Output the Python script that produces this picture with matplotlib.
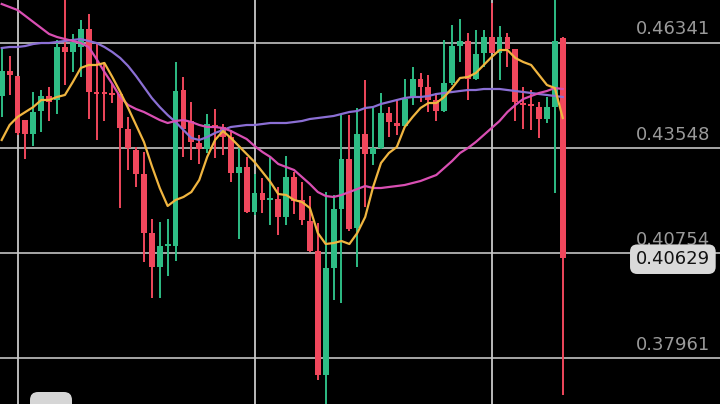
import matplotlib
matplotlib.use("Agg")
import matplotlib.pyplot as plt
from matplotlib.patches import FancyBboxPatch

# candle data (open, high, low, close), one value per candle
opens = [0.44922, 0.45585, 0.45453, 0.44285, 0.43914, 0.44524, 0.44922, 0.44816, 0.46222, 0.46089,
         0.46222, 0.46700, 0.45028, 0.45028, 0.45002, 0.44975, 0.44047, 0.43489, 0.42853, 0.41288,
         0.40385, 0.40943, 0.40943, 0.45081, 0.44259, 0.43675, 0.43516, 0.44153, 0.44100, 0.43834,
         0.42879, 0.43038, 0.41845, 0.42349, 0.42163, 0.42190, 0.41712, 0.42773, 0.42163, 0.41606,
         0.40810, 0.37520, 0.40359, 0.41924, 0.43251, 0.41420, 0.43914, 0.43383, 0.43543, 0.44471,
         0.44206, 0.44126, 0.44896, 0.45373, 0.45161, 0.44816, 0.44524, 0.45267, 0.46249, 0.46381,
         0.45373, 0.46063, 0.46487, 0.46063, 0.46487, 0.46169, 0.44736, 0.44710, 0.44630, 0.44312,
         0.44630, 0.46461]
highs = [0.46196, 0.45983, 0.45453, 0.44285, 0.45028, 0.45081, 0.45161, 0.46408, 0.47469, 0.46567,
         0.46938, 0.47098, 0.46328, 0.45824, 0.45267, 0.44975, 0.44365, 0.43569, 0.43436, 0.41659,
         0.41579, 0.41659, 0.45824, 0.45426, 0.44763, 0.43887, 0.44445, 0.44577, 0.44179, 0.44020,
         0.43543, 0.43304, 0.42853, 0.42747, 0.43304, 0.42508, 0.43330, 0.42906, 0.42641, 0.42269,
         0.41553, 0.42375, 0.42296, 0.44418, 0.44418, 0.44604, 0.45347, 0.44604, 0.45002, 0.44630,
         0.44843, 0.45373, 0.45691, 0.45532, 0.45479, 0.45002, 0.46408, 0.46806, 0.46965, 0.46594,
         0.46673, 0.46673, 0.47389, 0.46779, 0.46594, 0.46169, 0.45161, 0.45081, 0.44763, 0.44896,
         0.47602, 0.46487]
lows = [0.44365, 0.44949, 0.43887, 0.43251, 0.43596, 0.43967, 0.44259, 0.44445, 0.45214, 0.45559,
        0.45426, 0.44312, 0.43755, 0.44259, 0.44736, 0.41951, 0.42959, 0.42508, 0.40518, 0.39563,
        0.39563, 0.40147, 0.40545, 0.43304, 0.43224, 0.43118, 0.43410, 0.43277, 0.43357, 0.42641,
        0.41128, 0.41818, 0.41765, 0.41818, 0.41500, 0.41234, 0.41500, 0.41792, 0.41500, 0.40783,
        0.37388, 0.36645, 0.39510, 0.39430, 0.41341, 0.40385, 0.41977, 0.43092, 0.43516, 0.43834,
        0.43887, 0.44100, 0.44683, 0.44763, 0.44498, 0.44259, 0.44498, 0.45214, 0.45824, 0.44816,
        0.45347, 0.45691, 0.46063, 0.45347, 0.45691, 0.44259, 0.44047, 0.44020, 0.43808, 0.44206,
        0.42349, 0.36990]
closes = [0.45585, 0.45479, 0.43941, 0.43914, 0.44498, 0.44922, 0.44763, 0.46222, 0.46089, 0.46355,
          0.46700, 0.45028, 0.44975, 0.44975, 0.44949, 0.44073, 0.43543, 0.42853, 0.41288, 0.40385,
          0.40943, 0.40996, 0.45055, 0.44047, 0.43702, 0.43516, 0.44179, 0.44073, 0.43834, 0.42879,
          0.43038, 0.41845, 0.42349, 0.42163, 0.42216, 0.41712, 0.42773, 0.42136, 0.41632, 0.40810,
          0.37520, 0.40359, 0.41924, 0.43251, 0.41394, 0.43914, 0.43383, 0.43543, 0.44471, 0.44232,
          0.44126, 0.44843, 0.45373, 0.45161, 0.44816, 0.44524, 0.45267, 0.46249, 0.46381, 0.45373,
          0.46036, 0.46487, 0.46063, 0.46487, 0.46169, 0.44763, 0.44683, 0.44657, 0.44312, 0.44630,
          0.46381, 0.40629]

# moving average lines
ma_fast = [0.43755, 0.44153, 0.44365, 0.44498, 0.44630, 0.44816, 0.44816, 0.44896, 0.44949, 0.45294,
           0.45665, 0.45745, 0.45745, 0.45798, 0.45426, 0.45028, 0.44604, 0.44153, 0.43702, 0.43065,
           0.42481, 0.42004, 0.42163, 0.42243, 0.42375, 0.42694, 0.43304, 0.43755, 0.43994, 0.43808,
           0.43596, 0.43383, 0.43171, 0.42906, 0.42641, 0.42322, 0.42296, 0.42163, 0.42110, 0.41951,
           0.41288, 0.40996, 0.41022, 0.41075, 0.40996, 0.41288, 0.41712, 0.42508, 0.43145, 0.43410,
           0.43569, 0.44100, 0.44365, 0.44604, 0.44736, 0.44736, 0.44896, 0.45134, 0.45400, 0.45426,
           0.45532, 0.45745, 0.45957, 0.46142, 0.46142, 0.45930, 0.45824, 0.45745, 0.45479, 0.45214,
           0.45134, 0.44338]
ma_mid = [0.47363, 0.47283, 0.47204, 0.47045, 0.46885, 0.46726, 0.46567, 0.46487, 0.46434, 0.46381,
          0.46328, 0.46222, 0.45904, 0.45559, 0.45240, 0.44896, 0.44683, 0.44577, 0.44498, 0.44392,
          0.44285, 0.44206, 0.44259, 0.44285, 0.44232, 0.44153, 0.44100, 0.44100, 0.44073, 0.43994,
          0.43887, 0.43781, 0.43596, 0.43436, 0.43304, 0.43118, 0.43038, 0.42959, 0.42773, 0.42587,
          0.42375, 0.42269, 0.42243, 0.42296, 0.42375, 0.42455, 0.42534, 0.42481, 0.42481, 0.42508,
          0.42534, 0.42561, 0.42614, 0.42667, 0.42747, 0.42826, 0.43012, 0.43198, 0.43410, 0.43543,
          0.43702, 0.43887, 0.44073, 0.44259, 0.44498, 0.44683, 0.44843, 0.44922, 0.45002, 0.45055,
          0.45134, 0.45108]
ma_slow = [0.46196, 0.46222, 0.46222, 0.46249, 0.46302, 0.46328, 0.46328, 0.46355, 0.46381, 0.46408,
           0.46434, 0.46381, 0.46328, 0.46222, 0.46089, 0.45930, 0.45718, 0.45453, 0.45161, 0.44869,
           0.44630, 0.44418, 0.44232, 0.44020, 0.43808, 0.43755, 0.43834, 0.43941, 0.44020, 0.44100,
           0.44126, 0.44153, 0.44153, 0.44179, 0.44206, 0.44206, 0.44206, 0.44232, 0.44259, 0.44312,
           0.44338, 0.44365, 0.44392, 0.44445, 0.44498, 0.44524, 0.44604, 0.44630, 0.44710, 0.44763,
           0.44816, 0.44869, 0.44896, 0.44896, 0.44922, 0.44975, 0.45002, 0.45028, 0.45055, 0.45081,
           0.45081, 0.45108, 0.45108, 0.45108, 0.45081, 0.45055, 0.45028, 0.45002, 0.44975, 0.44949,
           0.44922, 0.44896]

price_levels = [0.46341, 0.43548, 0.40754, 0.37961]
level_labels = ["0.46341", "0.43548", "0.40754", "0.37961"]
time_marks = [2, 32, 62]
last_price = "0.40629"

GREEN = "#2ebd85"
RED = "#f0475c"

fig = plt.figure(figsize=(7.2, 4.04), dpi=100, facecolor="black")
ax = fig.add_axes([0, 0, 1, 1])
ax.set_facecolor("black")

# grid lines
for lvl in price_levels:
    ax.axhline(lvl, color="#b4b4b4", lw=1.3, zorder=1)
for t in time_marks:
    ax.axvline(t, color="#c8c8c8", lw=1.3, zorder=1)

# candles
idx = list(range(len(opens)))
colors = [GREEN if c >= o else RED for o, c in zip(opens, closes)]
ax.vlines(idx, lows, highs, colors=colors, lw=1.4, zorder=2)
bottoms = [min(o, c) for o, c in zip(opens, closes)]
heights = [max(abs(c - o), 0.0005) for o, c in zip(opens, closes)]
ax.bar(idx, heights, bottom=bottoms, width=0.74, color=colors, zorder=3)

# moving averages
ax.plot(idx, ma_slow, color="#8b6fd4", lw=1.6, zorder=4)
ax.plot(idx, ma_mid, color="#d94fb3", lw=1.6, zorder=4)
ax.plot(idx, ma_fast, color="#f0b540", lw=1.6, zorder=5)

# price labels on the right
for lvl, txt in zip(price_levels, level_labels):
    ax.annotate(txt, xy=(0.986, lvl), xycoords=("axes fraction", "data"),
                xytext=(0, 3), textcoords="offset points",
                ha="right", va="bottom", color="#9a9a9a", fontsize=13, zorder=6)

# current price tag
ax.annotate(last_price, xy=(0.986, closes[-1]), xycoords=("axes fraction", "data"),
            xytext=(0, -1), textcoords="offset points", ha="right", va="center",
            color="#111111", fontsize=13, zorder=8,
            bbox=dict(boxstyle="round,pad=0.32,rounding_size=0.4", fc="#d9d9d9", ec="none"))

# partial button at the bottom left (display pixels, origin bottom-left)
btn = FancyBboxPatch((30, -18), 42, 30, boxstyle="round,pad=0,rounding_size=8",
                     transform=None, fc="#d6d6d6", ec="none", zorder=9)
ax.add_patch(btn)

ax.set_xlim(-0.215, 90.9)
ax.set_ylim(0.36751, 0.47469)
ax.axis("off")

fig.savefig("out.png", dpi=100, facecolor="black")
